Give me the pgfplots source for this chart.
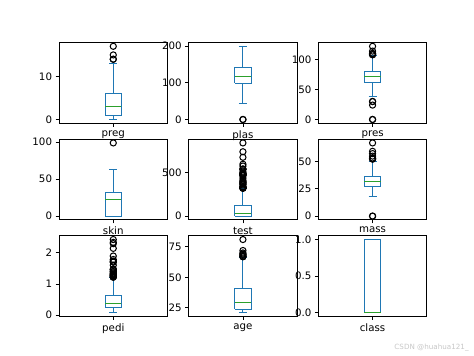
\documentclass[border=0pt]{standalone}
\usepackage{fontspec}
\setmainfont{DejaVu Sans}
\usepackage{pgfplots}
\pgfplotsset{compat=1.18}
\definecolor{czero}{HTML}{1F77B4}
\definecolor{ctwo}{HTML}{2CA02C}
\pgfplotsset{
  mplbox/.style={
    scale only axis, width=1.4588in, height=1.0871in,
    anchor=south west, clip=false,
    xmin=0.5, xmax=1.5, xtick={1},
    axis line style={line width=0.8bp, black},
    tick align=outside, major tick length=3.5bp,
    every tick/.style={black, line width=0.8bp},
    xtick pos=bottom, ytick pos=left,
    /pgf/number format/assume math mode=true,
    tick label style={font=\fontsize{10}{12}\selectfont},
  },
  bl/.style={draw=czero, line width=1bp, no marks, line join=miter},
  fl/.style={only marks, mark=o, mark size=3bp,
    mark options={draw=black, fill=none, line width=1bp, solid}},
}
% #1 lower whisker, #2 lower quartile, #3 median, #4 upper quartile, #5 upper whisker
\newcommand{\mplbox}[5]{%
  \addplot[bl] coordinates {(0.925,#2) (1.075,#2) (1.075,#4) (0.925,#4) (0.925,#2)};
  \addplot[bl] coordinates {(1,#2) (1,#1)};
  \addplot[bl] coordinates {(1,#4) (1,#5)};
  \addplot[bl] coordinates {(0.9625,#1) (1.0375,#1)};
  \addplot[bl] coordinates {(0.9625,#5) (1.0375,#5)};
  \addplot[draw=ctwo, line width=1bp, no marks] coordinates {(0.925,#3) (1.075,#3)};
}
\begin{document}
\begin{tikzpicture}
\path[use as bounding box] (0,0) rectangle (6.4in,4.8in);
% Row 1
\begin{axis}[mplbox, at={(0.8in,3.137in)}, ymin=-0.85, ymax=17.85, ytick={0,10}, xticklabels={preg}]
\mplbox{0}{1}{3}{6}{13}
\addplot[fl] coordinates {(1,14) (1,14) (1,15) (1,17)};
\end{axis}
\begin{axis}[mplbox, at={(2.5506in,3.137in)}, ymin=-9.95, ymax=208.95, ytick={0,100,200}, xticklabels={plas}]
\mplbox{44}{99}{117}{140.25}{199}
\addplot[fl] coordinates {(1,0) (1,0)};
\end{axis}
\begin{axis}[mplbox, at={(4.3012in,3.137in)}, ymin=-6.1, ymax=128.1, ytick={0,50,100}, xticklabels={pres}]
\mplbox{38}{62}{72}{80}{106}
\addplot[fl] coordinates {(1,0) (1,0) (1,24) (1,30) (1,30) (1,108) (1,108) (1,110) (1,110) (1,114) (1,122)};
\end{axis}
% Row 2
\begin{axis}[mplbox, at={(0.8in,1.8325in)}, ymin=-4.95, ymax=103.95, ytick={0,50,100}, xticklabels={skin}]
\mplbox{0}{0}{23}{32}{63}
\addplot[fl] coordinates {(1,99)};
\end{axis}
\begin{axis}[mplbox, at={(2.5506in,1.8325in)}, ymin=-42.3, ymax=888.3, ytick={0,500}, xticklabels={test}]
\mplbox{0}{0}{30.5}{127.25}{318}
\addplot[fl] coordinates {(1,321) (1,325) (1,325) (1,326) (1,328) (1,330) (1,330) (1,335) (1,342) (1,360) (1,370) (1,375) (1,387) (1,392) (1,402) (1,415) (1,440) (1,465) (1,474) (1,478) (1,480) (1,480) (1,485) (1,495) (1,495) (1,510) (1,540) (1,543) (1,545) (1,579) (1,600) (1,680) (1,744) (1,846)};
\end{axis}
\begin{axis}[mplbox, at={(4.3012in,1.8325in)}, ymin=-3.355, ymax=70.455, ytick={0,25,50}, xticklabels={mass}]
\mplbox{18.2}{27.3}{32}{36.6}{50.0}
\addplot[fl] coordinates {(1,0) (1,0) (1,52.3) (1,52.3) (1,52.9) (1,53.2) (1,55.0) (1,57.3) (1,59.4) (1,67.1)};
\end{axis}
% Row 3
\begin{axis}[mplbox, at={(0.8in,0.528in)}, ymin=-0.0391, ymax=2.537, ytick={0,1,2}, xticklabels={pedi}]
\mplbox{0.078}{0.24375}{0.3725}{0.62625}{1.191}
\addplot[fl] coordinates {(1,1.213) (1,1.222) (1,1.224) (1,1.251) (1,1.258) (1,1.268) (1,1.282) (1,1.292) (1,1.318) (1,1.321) (1,1.353) (1,1.39) (1,1.394) (1,1.441) (1,1.461) (1,1.476) (1,1.6) (1,1.698) (1,1.699) (1,1.731) (1,1.781) (1,1.893) (1,2.137) (1,2.288) (1,2.329) (1,2.42)};
\end{axis}
\begin{axis}[mplbox, at={(2.5506in,0.528in)}, ymin=18, ymax=84, ytick={25,50,75}, xticklabels={age}]
\mplbox{21}{24}{29}{41}{66}
\addplot[fl] coordinates {(1,67) (1,67) (1,67) (1,68) (1,69) (1,69) (1,70) (1,72) (1,81)};
\end{axis}
\begin{axis}[mplbox, at={(4.3012in,0.528in)}, ymin=-0.05, ymax=1.05, ytick={0,0.5,1}, xticklabels={class},
  yticklabel style={/pgf/number format/.cd, fixed, fixed zerofill, precision=1}]
\mplbox{0}{0}{0}{1}{1}
\end{axis}
\node[anchor=south east, text=black!22, font=\fontsize{7}{8}\selectfont, inner sep=0pt] at (6.33in,0.06in) {CSDN @huahua121\_};
\end{tikzpicture}
\end{document}
